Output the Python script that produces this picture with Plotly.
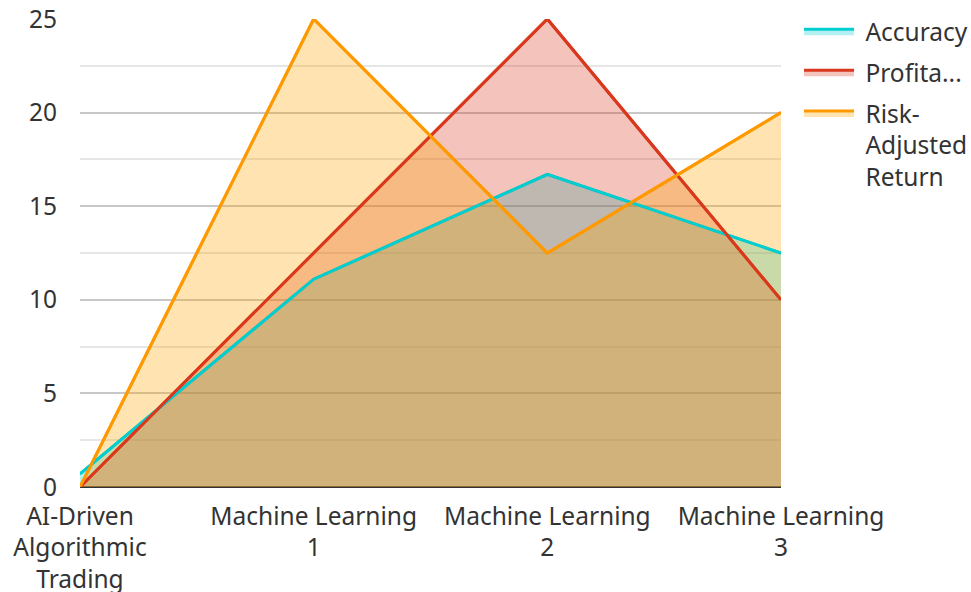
import plotly.graph_objects as go

categories = ["AI-Driven<br>Algorithmic<br>Trading", "Machine Learning<br>1", "Machine Learning<br>2", "Machine Learning<br>3"]
accuracy = [0.7, 11.1, 16.7, 12.5]
profitability = [0, 12.5, 25, 10]
risk_adjusted = [0, 25, 12.5, 20]
series_names = ["\u00a0Accuracy", "\u00a0Profita...", "\u00a0Risk-<br>\u00a0Adjusted<br>\u00a0Return"]
line_colors = ["#00CED1", "#D9381E", "#FF9900"]
fill_colors = ["rgba(0,206,209,0.3)", "rgba(217,56,30,0.3)", "rgba(255,165,0,0.3)"]
all_values = [accuracy, profitability, risk_adjusted]

fig = go.Figure()
for i, (name, vals, lc, fc) in enumerate(zip(series_names, all_values, line_colors, fill_colors)):
    fig.add_trace(go.Scatter(
        x=categories, y=vals, name=name, mode="lines", legendgroup=f"g{i}",
        line=dict(color=lc, width=3), fill="tozeroy", fillcolor=fc,
    ))
for i, (name, vals, lc) in enumerate(zip(series_names, all_values, line_colors)):
    fig.add_trace(go.Scatter(
        x=categories, y=vals, name=name, mode="lines", showlegend=False, legendgroup=f"g{i}",
        line=dict(color=lc, width=3),
    ))

fig.update_layout(
    width=971, height=592,
    margin=dict(l=80, r=190, t=19, b=105),
    paper_bgcolor="white", plot_bgcolor="white",
    font=dict(family="Noto Sans", size=24.5, color="#333333"),
    legend=dict(xref="container", yref="container", x=0.8229, y=0.985,
                xanchor="left", yanchor="top", font=dict(size=24.5),
                tracegroupgap=6, valign="top", itemwidth=50),
    xaxis=dict(range=[0, 3], showgrid=False, showline=False, ticks="", zeroline=False,
               automargin=False, ticklabelstandoff=12),
    yaxis=dict(range=[0, 25], dtick=5, showgrid=True, gridcolor="#c8c8c8", gridwidth=1.5,
               minor=dict(dtick=2.5, showgrid=True, gridcolor="#e6e6e6", gridwidth=1.5),
               zeroline=True, zerolinecolor="#333333", zerolinewidth=2, ticks="",
               ticklabelstandoff=22, automargin=False),
)
fig.write_html("out.html", config={"displayModeBar": False},
               post_script="document.body.style.margin='0';document.body.style.overflow='hidden';")
